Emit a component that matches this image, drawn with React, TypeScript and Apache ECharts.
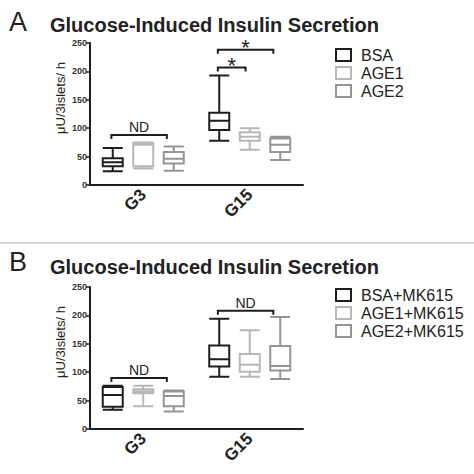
import React, { useEffect, useRef } from "react";
import * as echarts from "echarts";

const categories = ["G3", "G15"];
const yTicks = { min: 0, max: 250, interval: 50 };

// [min, Q1, median, Q3, max] per category
const namesA = ["BSA", "AGE1", "AGE2"];
const bsaA = [
  [24, 33, 40, 47, 65],
  [78, 97, 113, 127, 193],
];
const age1A = [
  [29, 33, 71, 74, 75],
  [62, 78, 85, 93, 100],
];
const age2A = [
  [25, 38, 46, 58, 68],
  [44, 58, 71, 82, 85],
];

const namesB = ["BSA+MK615", "AGE1+MK615", "AGE2+MK615"];
const bsaB = [
  [34, 39, 60, 74, 76],
  [92, 110, 123, 147, 194],
];
const age1B = [
  [40, 63, 66, 70, 76],
  [92, 101, 113, 132, 174],
];
const age2B = [
  [31, 40, 58, 66, 68],
  [88, 103, 111, 146, 197],
];

// significance brackets: category, height, from box, to box, label
const bracketsA = [
  { cat: 0, y: 88, from: 0, to: 2, label: "ND" },
  { cat: 1, y: 207, from: 0, to: 1, label: "*" },
  { cat: 1, y: 238, from: 0, to: 2, label: "*" },
];
const bracketsB = [
  { cat: 0, y: 90, from: 0, to: 2, label: "ND" },
  { cat: 1, y: 208, from: 0, to: 2, label: "ND" },
];

const colors = ["#1e1e1e", "#b8b8b8", "#959595"];
const font = "'Liberation Sans', Arial, sans-serif";

// same offsets echarts uses for side-by-side boxplot series
const boxOffsets = (band: number, n: number) => {
  const avail = band * 0.8 - 2;
  const gap = (avail / n) * 0.3;
  const w = avail / n - gap;
  let base = w / 2 - avail / 2;
  const out: number[] = [];
  for (let i = 0; i < n; i++) {
    out.push(base);
    base += gap + w;
  }
  return out;
};

const bracketSeries = (brackets: typeof bracketsA, axis: number) => ({
  type: "custom",
  xAxisIndex: axis,
  yAxisIndex: axis,
  clip: false,
  silent: true,
  data: brackets.map((b) => [b.cat, b.y, b.from, b.to]),
  renderItem: (params: any, api: any) => {
    const b = brackets[params.dataIndex];
    const c = api.coord([api.value(0), api.value(1)]);
    const band = api.size([1, 0])[0];
    const offs = boxOffsets(band, 3);
    const x1 = c[0] + offs[api.value(2)];
    const x2 = c[0] + offs[api.value(3)];
    const y = c[1];
    const star = b.label === "*";
    return {
      type: "group",
      children: [
        {
          type: "polyline",
          shape: { points: [[x1, y + 4], [x1, y], [x2, y], [x2, y + 4]] },
          style: { stroke: "#1e1e1e", lineWidth: 2, fill: "none" },
        },
        {
          type: "text",
          x: (x1 + x2) / 2,
          y: star ? y - 13 : y - 1,
          style: {
            text: b.label,
            fontFamily: font,
            fontSize: star ? 22 : 14,
            fill: "#222",
            align: "center",
            verticalAlign: star ? "top" : "bottom",
          },
        },
      ],
    };
  },
});

const boxSeries = (name: string, data: number[][], color: string, axis: number) => ({
  name,
  type: "boxplot",
  xAxisIndex: axis,
  yAxisIndex: axis,
  boxWidth: [20, 20],
  data,
  itemStyle: { color: "#fff", borderColor: color, borderWidth: 2 },
  emphasis: { disabled: true },
});

const xAxisFor = (grid: number) => ({
  type: "category",
  gridIndex: grid,
  data: categories,
  axisLine: { lineStyle: { color: "#1e1e1e", width: 2 } },
  axisTick: { alignWithLabel: true, length: 4, lineStyle: { color: "#1e1e1e", width: 1.5 } },
  axisLabel: {
    rotate: 45,
    margin: 7,
    fontSize: 17,
    fontWeight: "bold",
    color: "#222",
    fontFamily: font,
  },
});

const yAxisFor = (grid: number) => ({
  type: "value",
  gridIndex: grid,
  min: yTicks.min,
  max: yTicks.max,
  interval: yTicks.interval,
  name: "μU/3islets/ h",
  nameLocation: "middle",
  nameGap: 23,
  nameTextStyle: { fontSize: 13, color: "#222", fontFamily: font, padding: [0, 0, 0, 32] },
  axisLine: { show: true, lineStyle: { color: "#1e1e1e", width: 2 } },
  axisTick: { show: true, length: 4, lineStyle: { color: "#1e1e1e", width: 1.5 } },
  axisLabel: { fontSize: 9, fontWeight: "bold", color: "#333", margin: 3, fontFamily: font },
  splitLine: { show: false },
});

const legendFor = (names: string[], top: number) => ({
  orient: "vertical",
  left: 335,
  top,
  padding: 0,
  itemGap: 2,
  itemWidth: 15,
  itemHeight: 12,
  icon: "rect",
  selectedMode: false,
  textStyle: { fontSize: 16, color: "#222", fontFamily: font, padding: [0, 0, 0, 5] },
  data: names.map((n, i) => ({
    name: n,
    itemStyle: { color: "#fff", borderColor: colors[i], borderWidth: 2 },
  })),
});

const App: React.FC = () => {
  const chartRef = useRef<HTMLDivElement>(null);

  useEffect(() => {
    const chart = echarts.init(chartRef.current!, null, { renderer: "svg" });
    const letter = { fontSize: 27, fontWeight: "normal", color: "#222", fontFamily: font };
    const heading = { fontSize: 20, fontWeight: "bold", color: "#222", fontFamily: font };
    chart.setOption({
      animation: false,
      backgroundColor: "#fff",
      title: [
        { text: "A", left: 9, top: 8, padding: 0, textStyle: letter },
        { text: "Glucose-Induced Insulin Secretion", left: 50, top: 15, padding: 0, textStyle: heading },
        { text: "B", left: 9, top: 248, padding: 0, textStyle: letter },
        { text: "Glucose-Induced Insulin Secretion", left: 50, top: 257, padding: 0, textStyle: heading },
      ],
      legend: [legendFor(namesA, 47), legendFor(namesB, 287)],
      grid: [
        { left: 90, top: 43, width: 213, height: 142 },
        { left: 90, top: 287, width: 213, height: 142 },
      ],
      xAxis: [xAxisFor(0), xAxisFor(1)],
      yAxis: [yAxisFor(0), yAxisFor(1)],
      graphic: [
        {
          type: "line",
          shape: { x1: 0, y1: 243, x2: 474, y2: 243 },
          style: { stroke: "#c4c4c4", lineWidth: 1.5 },
        },
      ],
      series: [
        boxSeries(namesA[0], bsaA, colors[0], 0),
        boxSeries(namesA[1], age1A, colors[1], 0),
        boxSeries(namesA[2], age2A, colors[2], 0),
        bracketSeries(bracketsA, 0),
        boxSeries(namesB[0], bsaB, colors[0], 1),
        boxSeries(namesB[1], age1B, colors[1], 1),
        boxSeries(namesB[2], age2B, colors[2], 1),
        bracketSeries(bracketsB, 1),
      ],
    });
    return () => chart.dispose();
  }, []);

  return (
    <div
      ref={chartRef}
      style={{ position: "absolute", left: 0, top: 0, width: 474, height: 474 }}
    />
  );
};

export default App;
